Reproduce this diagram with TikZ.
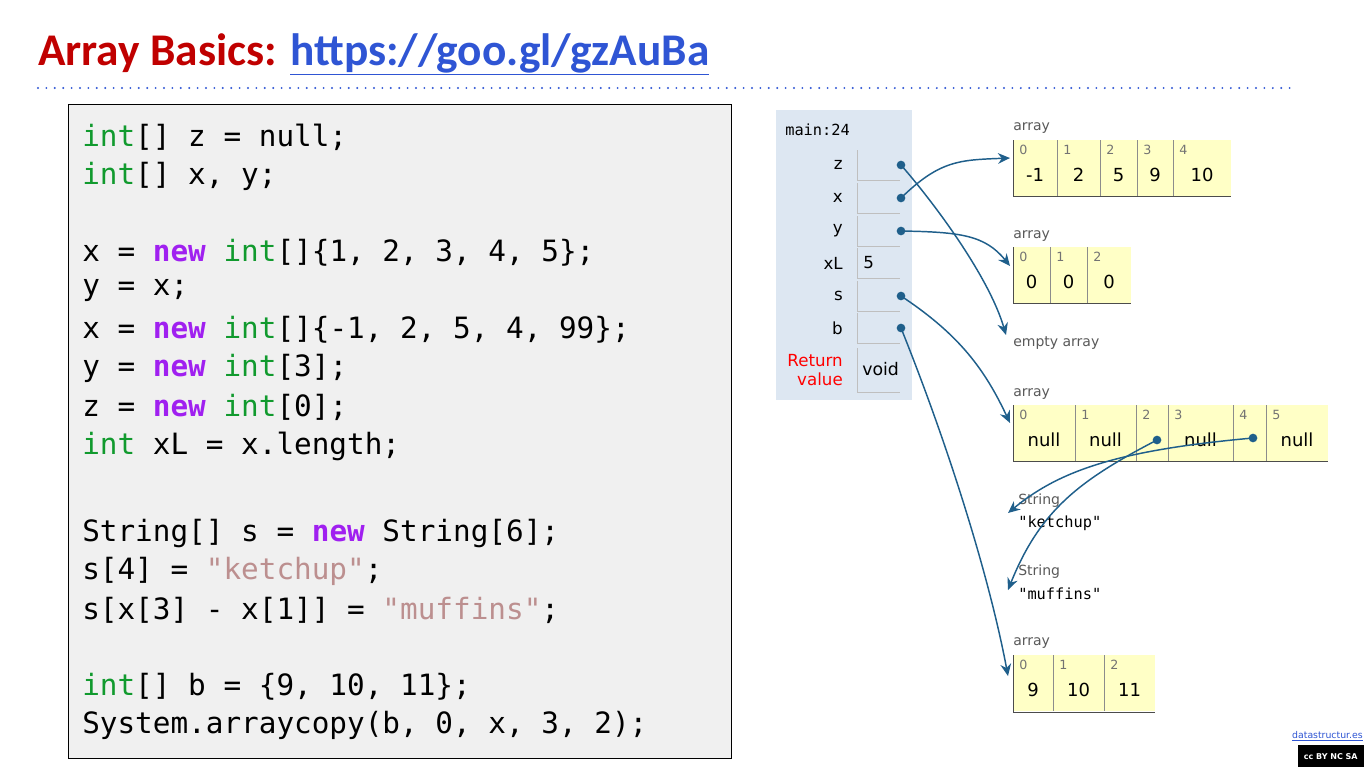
\documentclass[tikz,border=0pt]{standalone}
\usepackage{fontspec}
\setmainfont{DejaVu Sans}
\newfontfamily\codef{DejaVu Sans Mono}
\newfontfamily\titlef{Carlito}
\usetikzlibrary{arrows.meta}
\definecolor{kw}{HTML}{119A2E}
\definecolor{nw}{HTML}{A020F0}
\definecolor{st}{HTML}{BC8F8F}
\definecolor{ptr}{HTML}{1F5F8B}
\definecolor{cell}{HTML}{FFFFC6}
\definecolor{frm}{HTML}{DDE7F2}
\definecolor{ttl}{HTML}{C00000}
\definecolor{lnk}{HTML}{2F55D4}
\begin{document}
\begin{tikzpicture}[x=0.75pt,y=-0.75pt,
  code/.style={anchor=west,inner sep=0,font=\codef\fontsize{22}{24}\selectfont},
  lab/.style={anchor=west,inner sep=0,text=black!65,font=\fontsize{10.5}{12}\selectfont},
  idx/.style={anchor=north west,inner sep=0,text=black!55,font=\fontsize{9.5}{11}\selectfont},
  val/.style={inner sep=0,font=\fontsize{13.5}{15}\selectfont},
  var/.style={anchor=east,inner sep=0,font=\fontsize{12.5}{14}\selectfont},
  dot/.style={circle,fill=ptr,inner sep=0,minimum size=6.5},
  ref/.style={draw=ptr,line width=1.1pt,-{Stealth[length=9,width=8]}}]
\useasboundingbox (0,0) rectangle (1366,768);
\fill[white] (0,0) rectangle (1366,768);
% title
\node[anchor=base west,inner sep=0,font=\titlef\bfseries\fontsize{34}{38}\selectfont] (title) at (38,65)
 {\textcolor{ttl}{Array Basics: }\textcolor{lnk}{\underline{https://goo.gl/gzAuBa}}};
\draw[lnk,line width=1.6pt,dash pattern=on 0pt off 6.3pt,line cap=round] (38,88) -- (1290,88);
% code box
\node[draw=black,fill=black!6,line width=0.8pt,minimum width=663*0.75pt,minimum height=654*0.75pt,anchor=north west,inner sep=0] (box) at (68,104) {};
\node[code] (c1) at (82,137) {\textcolor{kw}{int}[] z = null;};
\node[code] (c2) at (82,176) {\textcolor{kw}{int}[] x, y;};
\node[code] (c3) at (82,253) {x = \textcolor{nw}{\bfseries new} \textcolor{kw}{int}[]\{1, 2, 3, 4, 5\};};
\node[code] (c4) at (82,291) {y = x;};
\node[code] (c5) at (82,330) {x = \textcolor{nw}{\bfseries new} \textcolor{kw}{int}[]\{-1, 2, 5, 4, 99\};};
\node[code] (c6) at (82,368) {y = \textcolor{nw}{\bfseries new} \textcolor{kw}{int}[3];};
\node[code] (c7) at (82,407) {z = \textcolor{nw}{\bfseries new} \textcolor{kw}{int}[0];};
\node[code] (c8) at (82,446) {\textcolor{kw}{int} xL = x.length;};
\node[code] (c9) at (82,533) {String[] s = \textcolor{nw}{\bfseries new} String[6];};
\node[code] (c10) at (82,571) {s[4] = \textcolor{st}{"ketchup"};};
\node[code] (c11) at (82,610) {s[x[3] - x[1]] = \textcolor{st}{"muffins"};};
\node[code] (c12) at (82,687) {\textcolor{kw}{int}[] b = \{9, 10, 11\};};
\node[code] (c13) at (82,725) {System.arraycopy(b, 0, x, 3, 2);};
% frame
\fill[frm] (776,110) rectangle (912,400);
\node[anchor=west,inner sep=0,font=\codef\fontsize{11.5}{13}\selectfont] (fname) at (785,130) {main:24};
\foreach \n/\y in {z/165,x/198,y/231,xL/263,s/296,b/328}{
  \node[var] (v\n) at (843,\y) {\n};
  \draw[black!25] (857,\y-15) -- (857,\y+15) -- (900,\y+15);
}
\node[var,text=red,align=right] (vret) at (843,370) {Return\\value};
\draw[black!25] (857,348) -- (857,392) -- (900,392);
\node[anchor=west,inner sep=0,font=\fontsize{12.5}{14}\selectfont] (xl5) at (863,263) {5};
\node[anchor=west,inner sep=0,font=\fontsize{13}{15}\selectfont] (void) at (862,369) {void};
\foreach \n/\y in {z/165,x/198,y/231,s/296,b/328}{\node[dot] (d\n) at (901,\y) {};}
% arrays
\newcommand{\heaparr}[4]{% name, top y, label y, list x0/x1/i/v
  \node[lab] (#1l) at (1013,#3) {array};
  \foreach \a/\b/\i/\v in {#4}{
    \fill[cell] (\a,#2) rectangle (\b,#2+56);
    \draw[black!45] (\a,#2) -- (\a,#2+56);
    \node[idx] at (\a+6,#2+5) {\i};
    \node[val] (#1\i) at ({(\a+\b)/2},#2+35) {\v};
  }
}
\heaparr{A}{140}{128}{1013/1057/0/-1,1057/1100/1/2,1100/1137/2/5,1137/1173/3/9,1173/1231/4/10}
\draw[black!70] (1013,140) -- (1013,196) -- (1231,196);
\heaparr{B}{247}{236}{1013/1050/0/0,1050/1087/1/0,1087/1131/2/0}
\draw[black!70] (1013,247) -- (1013,303) -- (1131,303);
\node[lab] (E) at (1013,343) {empty array};
\heaparr{S}{405}{394}{1013/1075/0/null,1075/1136/1/null,1136/1168/2/{},1168/1233/3/null,1233/1266/4/{},1266/1328/5/null}
\draw[black!70] (1013,405) -- (1013,461) -- (1328,461);
\heaparr{C}{655}{643}{1013/1053/0/9,1053/1104/1/10,1104/1155/2/11}
\draw[black!70] (1013,655) -- (1013,712) -- (1155,712);
\node[lab] (K1) at (1018,501) {String};
\node[anchor=west,inner sep=0,font=\codef\fontsize{11.5}{13}\selectfont] (K2) at (1018,523) {"ketchup"};
\node[lab] (M1) at (1018,572) {String};
\node[anchor=west,inner sep=0,font=\codef\fontsize{11.5}{13}\selectfont] (M2) at (1018,594) {"muffins"};
\node[dot] (s2) at (1157,440) {};
\node[dot] (s4) at (1253,438) {};
% references
\coordinate (tA) at (1010,158);
\coordinate (tB) at (1010,266);
\coordinate (tE) at (1006,335);
\coordinate (tS) at (1010,423);
\coordinate (tC) at (1008,676);
\coordinate (tK) at (1008,513);
\coordinate (tM) at (1008,590);
\draw[ref] (dz.center) .. controls (940,210) and (990,280) .. (tE);
\draw[ref] (dx.center) .. controls (940,160) and (960,160) .. (tA);
\draw[ref] (dy.center) .. controls (960,232) and (985,235) .. (tB);
\draw[ref] (ds.center) .. controls (960,335) and (985,370) .. (tS);
\draw[ref] (db.center) .. controls (950,450) and (990,580) .. (tC);
\draw[ref] (s4.center) .. controls (1120,450) and (1060,470) .. (tK);
\draw[ref] (s2.center) .. controls (1080,480) and (1040,510) .. (tM);
% footer
\node[anchor=east,inner sep=0,text=lnk,font=\fontsize{7}{8}\selectfont] (site) at (1363,736) {\underline{datastructur.es}};
\node[fill=black,text=white,anchor=north east,minimum width=66*0.75pt,minimum height=22*0.75pt,inner sep=0,font=\bfseries\fontsize{6}{7}\selectfont] (cc) at (1364,745) {cc BY NC SA};
\end{tikzpicture}
\end{document}
